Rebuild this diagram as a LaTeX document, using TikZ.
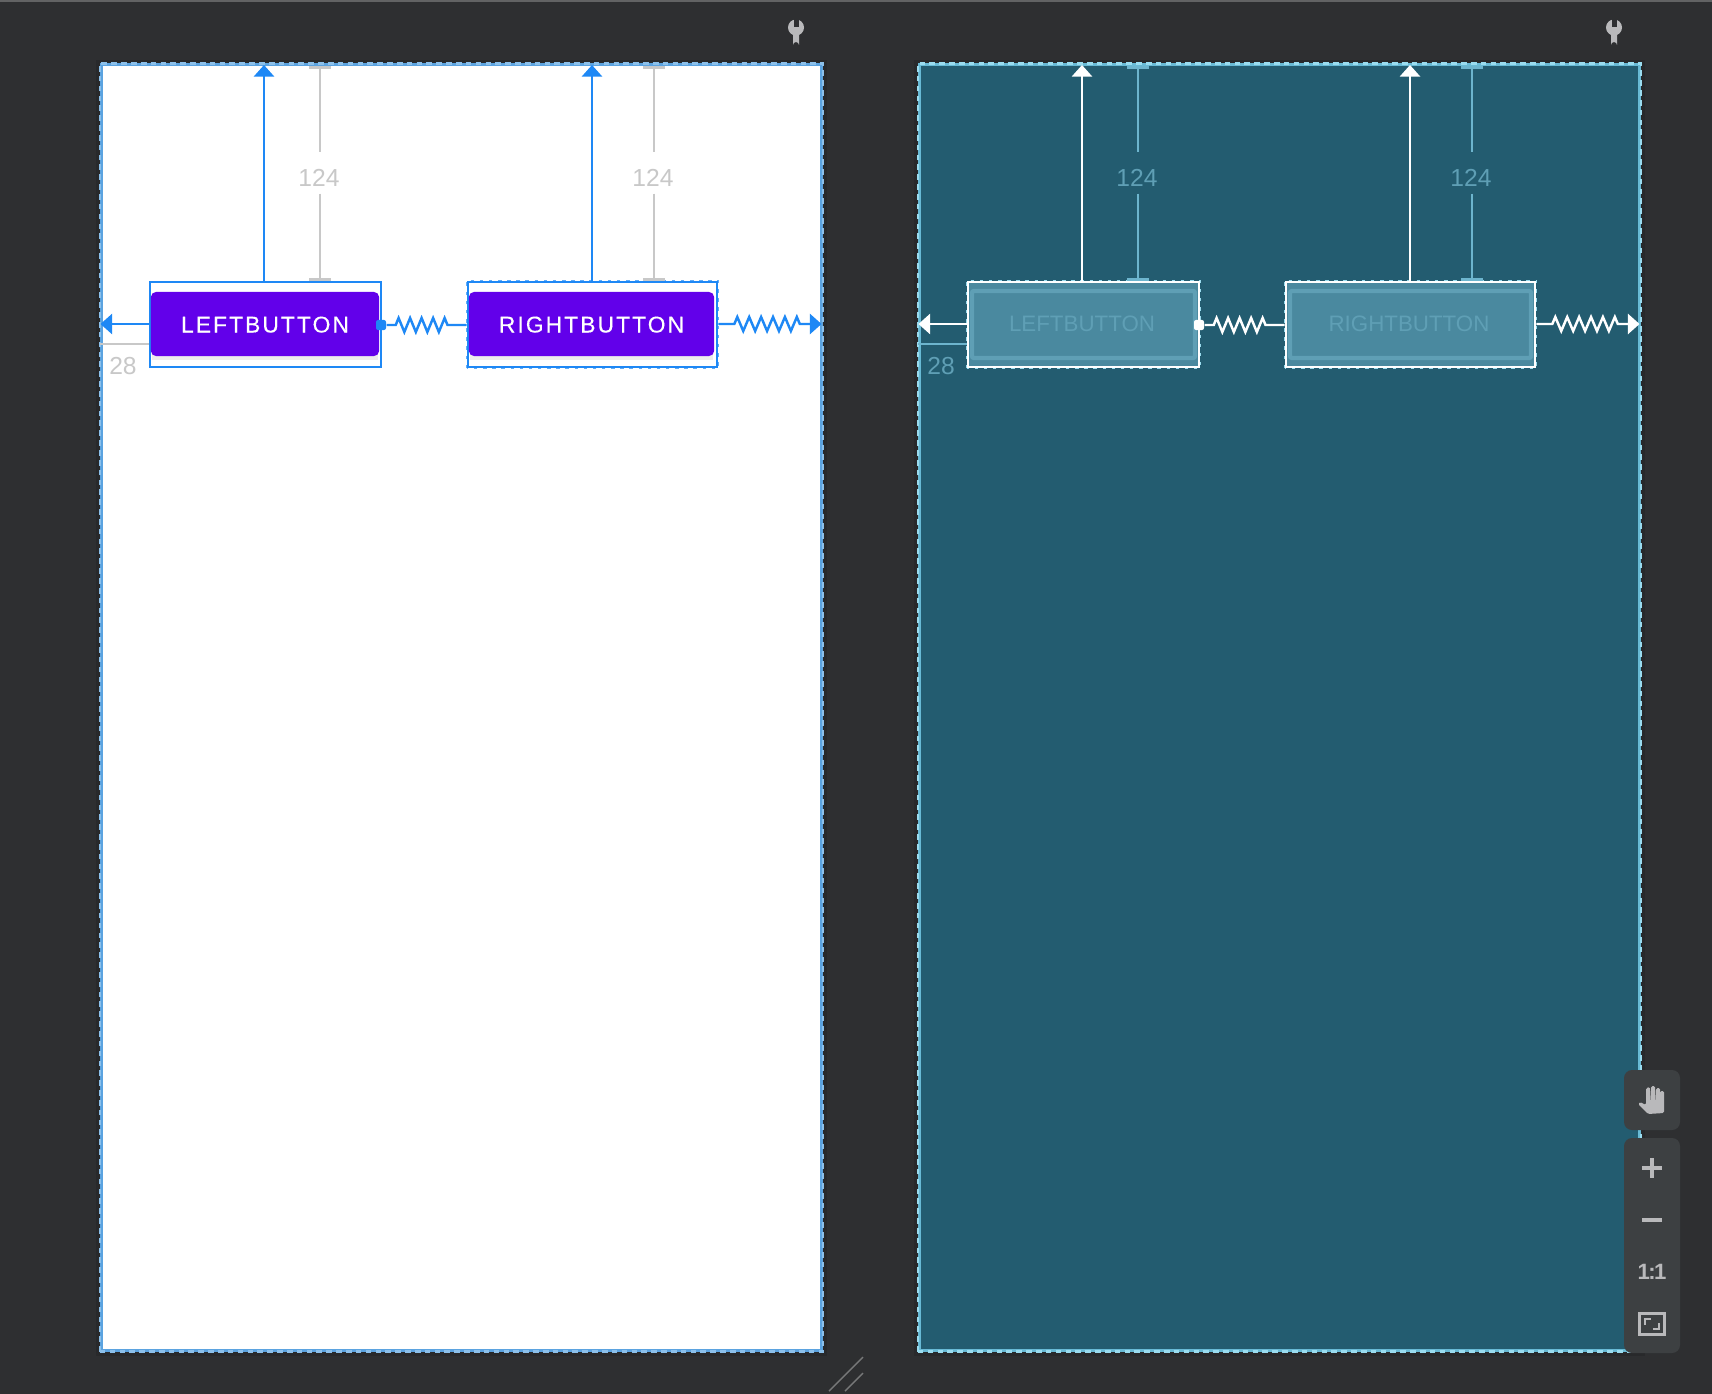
\documentclass[tikz,border=0pt]{standalone}
\usepackage{fontspec}
\usepackage{xcolor}
\setmainfont{Liberation Sans}
\newfontfamily\btnfont[LetterSpace=9,FakeBold=.3]{Liberation Sans}
\usetikzlibrary{arrows.meta,decorations.pathmorphing}
\definecolor{bgdark}{HTML}{2E2F31}
\definecolor{edgedark}{HTML}{28292B}
\definecolor{blueprint}{HTML}{235C70}
\definecolor{blueline}{HTML}{1E88F5}
\definecolor{panelblue}{HTML}{5BA3E0}
\definecolor{paleblue}{HTML}{8CC0EA}
\definecolor{panelteal}{HTML}{68BAD5}
\definecolor{paleteal}{HTML}{9ADCEF}
\definecolor{dimgray}{HTML}{C8C8C8}
\definecolor{dimteal}{HTML}{6DB5CE}
\definecolor{labelteal}{HTML}{5F9FB5}
\definecolor{ghostfill}{HTML}{4A899F}
\definecolor{btnpurple}{HTML}{6200EA}
\definecolor{toolgray}{HTML}{3D4042}
\definecolor{icongray}{HTML}{B9B9BB}
\tikzset{
paneledge/.style={line width=.75pt,minimum width=7.2cm,minimum height=12.85cm,inner sep=0pt},
dashover/.style={draw=#1,line width=.7pt,dash pattern=on 1.6pt off 1.2pt},
finedash/.style={draw=#1,line width=.35pt,dash pattern=on 1pt off 1.6pt},
selbox/.style={draw=blueline,line width=.7pt,minimum height=.85cm,inner sep=0pt},
ghostbox/.style={draw=white,fill=ghostfill,line width=.7pt,minimum height=.85cm,inner sep=0pt},
ghostinner/.style={draw=labelteal,line width=1.2pt,rounded corners=.02cm,minimum height=.67cm,inner sep=0pt},
button/.style={fill=btnpurple,text=white,rounded corners=.05cm,minimum height=.64cm,inner sep=0pt,text height=.17cm,text depth=0pt,font=\btnfont\fontsize{6.5pt}{7pt}\selectfont},
ghosttext/.style={text=labelteal,inner sep=0pt,font=\fontsize{6.35pt}{7pt}\selectfont},
dimtext/.style={inner sep=0pt,text height=.335cm,text depth=.065cm,font=\fontsize{7pt}{7pt}\selectfont},
gaptext/.style={inner sep=0pt,font=\fontsize{7pt}{7pt}\selectfont},
dimtop/.style={line width=.7pt,{Bar[width=6.2pt,line width=.8pt]}-},
dimbot/.style={line width=.7pt,-{Bar[width=6.2pt,line width=.8pt]}},
conn/.style={line width=.7pt},
connarrow/.style={line width=.7pt,-{Triangle[width=5.7pt,length=3.3pt]}},
spring/.style={line width=.7pt,decorate,decoration={zigzag,segment length=.115cm,amplitude=.07cm,pre length=.09cm,post length=.14cm}},
springend/.style={line width=.7pt,decorate,decoration={zigzag,segment length=.119cm,amplitude=.07cm,pre length=.16cm,post length=.05cm}},
anchordot/.style={rounded corners=.02cm,minimum size=.1cm,inner sep=0pt},
toolbox/.style={fill=toolgray,rounded corners=.08cm,inner sep=0pt},
wrench/.pic={
\fill[icongray] (-3,28) -- (3,28) -- (3,45) arc (0:-180:3) -- cycle;
\fill[icongray] (0,27.5) circle (8);
\fill[bgdark] (-2.5,17) rectangle (2.5,27);
}
}
\begin{document}
\begin{tikzpicture}[x=0.01cm,y=-0.01cm]
\fill[bgdark] (0,0) rectangle (1712,1394);
\fill[white!25!bgdark] (0,0) rectangle (1712,2);

\fill[edgedark] (96,60) rectangle (827,1356);
\fill[edgedark] (914,60) rectangle (1645,1356);

\node[paneledge,draw=panelblue,fill=white] (leftpanel) at (461.5,707.5) {};
\draw[dashover=paleblue] (leftpanel.south west) rectangle (leftpanel.north east);
\node[paneledge,draw=panelteal,fill=blueprint] (rightpanel) at (1279.5,707.5) {};
\draw[dashover=paleteal] (rightpanel.south west) rectangle (rightpanel.north east);

\pic at (796,0) {wrench};
\pic at (1614,0) {wrench};

\node[selbox,minimum width=2.31cm] (leftsel) at (265.5,324.5) {};
\fill[black!7] (152,300) rectangle (378,360);
\node[button,minimum width=2.28cm] (leftbtn) at (265,324) {LEFTBUTTON};
\node[selbox,minimum width=2.49cm] (rightsel) at (592.5,324.5) {};
\draw[finedash=white!30!blueline] (rightsel.south west) rectangle (rightsel.north east);
\fill[black!7] (470,300) rectangle (713,360);
\node[button,minimum width=2.45cm] (rightbtn) at (591.5,324) {RIGHTBUTTON};

\node[dimtext,text=dimgray] (leftdim) at (319,173) {124};
\node[dimtext,text=dimgray] (rightdim) at (653,173) {124};
\node[gaptext,text=dimgray] (leftgap) at (123,366) {28};
\coordinate (lefttop) at (320,66);
\coordinate (leftbot) at (320,281);
\coordinate (righttop) at (654,66);
\coordinate (rightbot) at (654,281);
\coordinate (leftedge) at (100,344);
\draw[dimgray,dimtop] (lefttop) -- (lefttop |- leftdim.north);
\draw[dimgray,dimbot] (leftbot |- leftdim.south) -- (leftbot);
\draw[dimgray,dimtop] (righttop) -- (righttop |- rightdim.north);
\draw[dimgray,dimbot] (rightbot |- rightdim.south) -- (rightbot);
\draw[dimgray,conn] (leftedge) -- (leftsel.west |- leftedge);

\coordinate (lefttip) at (264,65);
\coordinate (righttip) at (592,65);
\coordinate (leftwall) at (100.5,324);
\coordinate (rightwall) at (821.5,324);
\coordinate (rightcoil) at (810,324);
\node[anchordot,fill=blueline] (leftdot) at (381,325) {};
\draw[blueline,connarrow] (leftsel.north -| lefttip) -- (lefttip);
\draw[blueline,connarrow] (rightsel.north -| righttip) -- (righttip);
\draw[blueline,connarrow] (leftsel.west |- leftwall) -- (leftwall);
\draw[blueline,spring] (leftdot.east) -- (rightsel.west |- leftdot);
\draw[blueline,springend] (rightsel.east |- rightwall) -- (rightcoil);
\draw[blueline,connarrow] (rightcoil) -- (rightwall);

\node[ghostbox,minimum width=2.31cm] (leftghost) at (1083.5,324.5) {};
\node[ghostinner,minimum width=2.23cm] (leftinner) at (1083.5,324.5) {};
\node[ghosttext] (leftname) at (1082,324) {LEFTBUTTON};
\draw[finedash=paleteal] (leftghost.south west) rectangle (leftghost.north east);
\node[ghostbox,minimum width=2.49cm] (rightghost) at (1410.5,324.5) {};
\node[ghostinner,minimum width=2.41cm] (rightinner) at (1410.5,324.5) {};
\node[ghosttext] (rightname) at (1409,324) {RIGHTBUTTON};
\draw[finedash=paleteal] (rightghost.south west) rectangle (rightghost.north east);

\node[dimtext,text=labelteal] (leftdimb) at (1137,173) {124};
\node[dimtext,text=labelteal] (rightdimb) at (1471,173) {124};
\node[gaptext,text=labelteal] (leftgapb) at (941,366) {28};
\coordinate (lefttopb) at (1138,66);
\coordinate (leftbotb) at (1138,281);
\coordinate (righttopb) at (1472,66);
\coordinate (rightbotb) at (1472,281);
\coordinate (leftedgeb) at (918,344);
\draw[dimteal,dimtop] (lefttopb) -- (lefttopb |- leftdimb.north);
\draw[dimteal,dimbot] (leftbotb |- leftdimb.south) -- (leftbotb);
\draw[dimteal,dimtop] (righttopb) -- (righttopb |- rightdimb.north);
\draw[dimteal,dimbot] (rightbotb |- rightdimb.south) -- (rightbotb);
\draw[dimteal,conn] (leftedgeb) -- (leftghost.west |- leftedgeb);

\coordinate (lefttipb) at (1082,65);
\coordinate (righttipb) at (1410,65);
\coordinate (leftwallb) at (918.5,324);
\coordinate (rightwallb) at (1639.5,324);
\coordinate (rightcoilb) at (1628,324);
\node[anchordot,fill=white] (leftdotb) at (1199,325) {};
\draw[white,connarrow] (leftghost.north -| lefttipb) -- (lefttipb);
\draw[white,connarrow] (rightghost.north -| righttipb) -- (righttipb);
\draw[white,connarrow] (leftghost.west |- leftwallb) -- (leftwallb);
\draw[white,spring] (leftdotb.east) -- (rightghost.west |- leftdotb);
\draw[white,springend] (rightghost.east |- rightwallb) -- (rightcoilb);
\draw[white,connarrow] (rightcoilb) -- (rightwallb);

\fill[toolbox] (1624,1070) rectangle (1680,1130);
\fill[toolbox] (1624,1138) rectangle (1680,1353);
\fill[icongray,rounded corners=.015cm] (1646,1112) -- (1638,1104) -- (1640,1102) -- (1646,1105) -- (1646,1088) -- (1650,1087) -- (1651,1105) -- (1651,1086) -- (1655,1086) -- (1656,1105) -- (1656,1088) -- (1660,1088) -- (1660,1105) -- (1660,1091) -- (1664,1091) -- (1664,1113) -- (1648,1114) -- cycle;
\fill[icongray] (1642,1166) rectangle (1662,1170);
\fill[icongray] (1650,1158) rectangle (1654,1178);
\fill[icongray] (1642,1218) rectangle (1662,1222);
\node[inner sep=0pt,text=icongray,font=\bfseries\fontsize{6.3pt}{7pt}\selectfont] (zoomreset) at (1652,1272) {1\kern-.015cm:\kern-.015cm1};
\draw[icongray,line width=.9pt] (1639.5,1313.5) rectangle (1664.5,1334.5);
\draw[icongray,line width=.55pt] (1645,1325) -- (1645,1319) -- (1651,1319);
\draw[icongray,line width=.55pt] (1653,1329) -- (1659,1329) -- (1659,1323);

\draw[white!35!bgdark,line width=.4pt] (829,1391) -- (863,1357);
\draw[white!35!bgdark,line width=.4pt] (845,1391) -- (863,1373);
\end{tikzpicture}
\end{document}
